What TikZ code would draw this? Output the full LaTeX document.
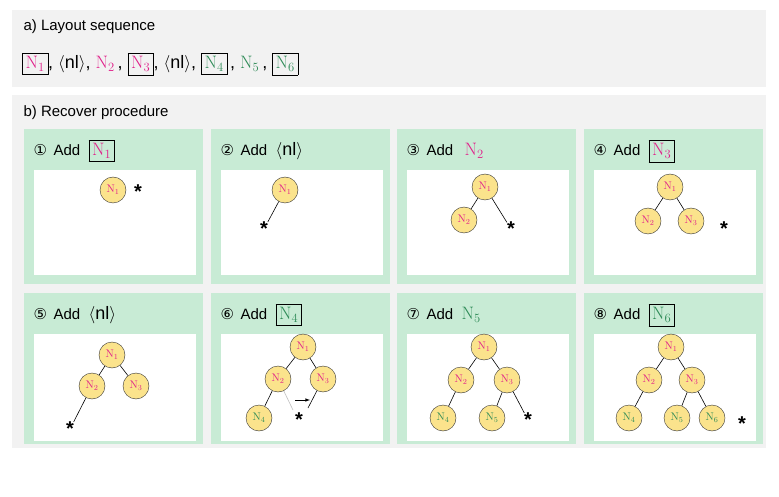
\documentclass[tikz,border=0pt]{standalone}
\usepackage{fontspec}
\setmainfont{Liberation Sans}
\newfontfamily\lmfnt{Latin Modern Roman}
\newfontfamily\djvfnt{DejaVu Sans}
\definecolor{bgg}{HTML}{F2F2F2}
\definecolor{pgr}{HTML}{C8EBD5}
\definecolor{mag}{HTML}{E0208A}
\definecolor{grn}{HTML}{2E8B57}
\definecolor{nfill}{HTML}{FBE38C}
\newcommand{\Nmag}[1]{{\lmfnt\color{mag}N\textsubscript{#1}}}
\newcommand{\Ngrn}[1]{{\lmfnt\color{grn}N\textsubscript{#1}}}
\newcommand{\nlsym}{$\langle$nl$\rangle$}
\newcommand{\myttl}[5]{\node[ttl] (#1) at (#3,#4) {{\djvfnt\fontsize{15}{15}\selectfont #2}\, Add\; {\fontsize{18}{18}\selectfont #5}};}
\tikzset{
 tn/.style={circle,draw=black!80,fill=nfill,minimum size=26pt,inner sep=0pt,font=\fontsize{11}{11}\selectfont},
 edge/.style={draw=black,line width=0.6pt},
 ttl/.style={anchor=west,font=\fontsize{15}{15}\selectfont},
 star/.style={font=\fontsize{20}{20}\selectfont\bfseries,inner sep=0pt}
}
\begin{document}
\begin{tikzpicture}[x=1pt,y=-1pt]
\useasboundingbox (0,0) rectangle (779,497);
\fill[white] (0,0) rectangle (779,497);
\fill[bgg] (12,10) rectangle (766,87);
\fill[bgg] (12,95) rectangle (766,448);
\node[anchor=west,font=\fontsize{15}{15}\selectfont] (ta) at (20,27) {a) Layout sequence};
\node[anchor=west,font=\fontsize{18}{18}\selectfont,inner sep=0pt] (seq) at (22,64)
 {\fbox{\Nmag1}, \nlsym, \Nmag2\,, \fbox{\Nmag3}, \nlsym, \fbox{\Ngrn4}\,, \Ngrn5\,, \fbox{\Ngrn6}};
\node[anchor=west,font=\fontsize{15}{15}\selectfont] (tb) at (20,113) {b) Recover procedure};
% panels
\foreach \px/\py/\ph/\wh in {24/129/155/105,211/129/155/105,397/129/155/105,584/129/155/105,24/293/151/107,211/293/151/107,397/293/151/107,584/293/151/107}{
 \fill[pgr] (\px,\py) rectangle ++(179,\ph);
 \fill[white] (\px+10,\py+41) rectangle ++(162,\wh);
}
% titles
\myttl{t1}{①}{30}{151}{\fbox{\Nmag1}}
\myttl{t2}{②}{217}{151}{\nlsym}
\myttl{t3}{③}{403}{151}{\,\Nmag2}
\myttl{t4}{④}{590}{151}{\fbox{\Nmag3}}
\myttl{t5}{⑤}{30}{315}{\nlsym}
\myttl{t6}{⑥}{217}{315}{\fbox{\Ngrn4}}
\myttl{t7}{⑦}{403}{315}{\Ngrn5}
\myttl{t8}{⑧}{590}{315}{\fbox{\Ngrn6}}
% panel 1
\node[tn] (a1) at (113,190) {\Nmag1};
\node[star] (as) at (138,192) {*};
% panel 2
\node[tn] (b1) at (285,190) {\Nmag1};
\node[star] (bs) at (264,229) {*};
\draw[edge] (b1) -- (bs);
% panel 3
\node[tn] (c1) at (485,187) {\Nmag1};
\node[tn] (c2) at (464,220) {\Nmag2};
\node[star] (cs) at (511,229) {*};
\draw[edge] (c1)--(c2); \draw[edge] (c1)--(cs);
% panel 4
\node[tn] (d1) at (670,187) {\Nmag1};
\node[tn] (d2) at (648,221) {\Nmag2};
\node[tn] (d3) at (691,221) {\Nmag3};
\node[star] (ds) at (724,229) {*};
\draw[edge] (d1)--(d2); \draw[edge] (d1)--(d3);
% panel 5
\node[tn] (e1) at (112,355) {\Nmag1};
\node[tn] (e2) at (92,386) {\Nmag2};
\node[tn] (e3) at (136,386) {\Nmag3};
\node[star] (es) at (70,429) {*};
\draw[edge] (e1)--(e2); \draw[edge] (e1)--(e3); \draw[edge] (e2)--(es);
% panel 6
\node[tn] (f1) at (303,347) {\Nmag1};
\node[tn] (f2) at (278,379) {\Nmag2};
\node[tn] (f3) at (323,379) {\Nmag3};
\node[tn] (f4) at (259,418) {\Ngrn4};
\node[star] (fs) at (299,420) {*};
\coordinate (fg) at (293,410);
\coordinate (fb) at (308,408);
\draw[edge] (f1)--(f2); \draw[edge] (f1)--(f3); \draw[edge] (f2)--(f4);
\draw[black!25,line width=0.6pt] (f2)--(fg);
\draw[edge] (f3)--(fb);
\coordinate (fa1) at (295,400); \coordinate (fa2) at (310,400);
\draw[-latex,line width=0.6pt] (fa1)--(fa2);
% panel 7
\node[tn] (g1) at (484,347) {\Nmag1};
\node[tn] (g2) at (461,380) {\Nmag2};
\node[tn] (g3) at (507,380) {\Nmag3};
\node[tn] (g4) at (443,418) {\Ngrn4};
\node[tn] (g5) at (492,418) {\Ngrn5};
\node[star] (gs) at (528,420) {*};
\draw[edge] (g1)--(g2); \draw[edge] (g1)--(g3); \draw[edge] (g2)--(g4);
\draw[edge] (g3)--(g5); \draw[edge] (g3)--(gs);
% panel 8
\node[tn] (h1) at (671,347) {\Nmag1};
\node[tn] (h2) at (649,380) {\Nmag2};
\node[tn] (h3) at (692,380) {\Nmag3};
\node[tn] (h4) at (629,418) {\Ngrn4};
\node[tn] (h5) at (677,418) {\Ngrn5};
\node[tn] (h6) at (712,418) {\Ngrn6};
\node[star] (hs) at (742,424) {*};
\draw[edge] (h1)--(h2); \draw[edge] (h1)--(h3); \draw[edge] (h2)--(h4);
\draw[edge] (h3)--(h5); \draw[edge] (h3)--(h6);
\end{tikzpicture}
\end{document}
